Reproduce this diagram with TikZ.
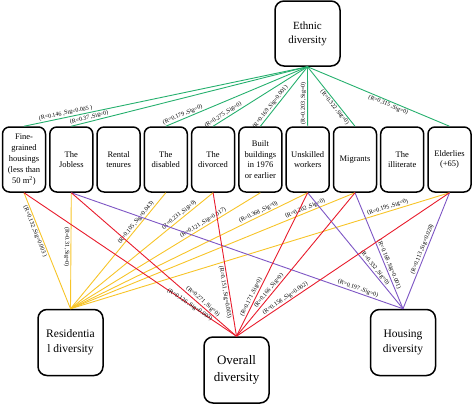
\documentclass[tikz,border=0pt]{standalone}
\usepackage{fontspec}
\setmainfont{Liberation Serif}
\definecolor{cgreen}{RGB}{38,176,110}
\definecolor{cyellow}{RGB}{247,196,40}
\definecolor{cred}{RGB}{232,28,44}
\definecolor{cpurple}{RGB}{126,86,196}
\begin{document}
\begin{tikzpicture}[x=1pt,y=-1pt,
  box/.style={draw, line width=1.5pt, rounded corners=7pt, align=center, inner sep=0pt, fill=white},
  topbox/.style={box, minimum width=43pt, minimum height=65pt, font=\fontsize{8.5}{10.8}\selectfont},
  bigbox/.style={box, rounded corners=9pt, minimum width=65pt, minimum height=66pt},
  lab/.style={font=\fontsize{6}{7}\selectfont, sloped, inner sep=1pt},
  gl/.style={draw=cgreen, line width=0.9pt},
  yl/.style={draw=cyellow, line width=0.9pt},
  rl/.style={draw=cred, line width=0.9pt},
  pl/.style={draw=cpurple, line width=0.9pt}]
\useasboundingbox (0,0) rectangle (474,405);

% nodes
\node[bigbox, minimum height=65pt, font=\fontsize{11}{14}\selectfont] (eth) at (307.5,33.5) {Ethnic\\diversity};
\node[topbox] (b1) at (24,159.5) {Fine-\\grained\\housings\\(less than\\50 m\textsuperscript{2})};
\node[topbox] (b2) at (71.3,159.5) {The\\Jobless};
\node[topbox] (b3) at (118.6,159.5) {Rental\\tenures};
\node[topbox] (b4) at (165.8,159.5) {The\\disabled};
\node[topbox] (b5) at (213.1,159.5) {The\\divorced};
\node[topbox] (b6) at (260.4,159.5) {Built\\buildings\\in 1976\\or earlier};
\node[topbox] (b7) at (307.7,159.5) {Unskilled\\workers};
\node[topbox] (b8) at (355,159.5) {Migrants};
\node[topbox] (b9) at (402.2,159.5) {The\\illiterate};
\node[topbox] (b10) at (449.5,159.5) {Elderlies\\(+65)};
\node[bigbox, font=\fontsize{11.5}{15}\selectfont] (res) at (70.5,342.5) {Residentia\\l diversity};
\node[bigbox, font=\fontsize{13}{17}\selectfont] (ov) at (236.5,370) {Overall\\diversity};
\node[bigbox, font=\fontsize{11.5}{15}\selectfont] (hou) at (403,342.5) {Housing\\diversity};

% green connectors
\draw[gl] (eth.south) -- node[lab, pos=0.85, above] {(R=0.146 ,Sig=0.005 )} (b1.north);
\draw[gl] (eth.south) -- node[lab, pos=0.92, above] {(R=0.37 ,Sig=0)} (b2.north);
\draw[gl] (eth.south) -- node[lab, pos=0.87, above] {(R=0.179 ,Sig=0)} (b4.north);
\draw[gl] (eth.south) -- node[lab, pos=0.87, above] {(R=0.275 ,Sig=0)} (b5.north);
\draw[gl] (eth.south) -- node[lab, pos=0.72, above] {(R=0.169 ,Sig=0.001)} (b6.north);
\draw[gl] (b7.north) -- node[lab, pos=0.38, above, allow upside down] {(R=0.203 ,Sig=0)} (eth.south);
\draw[gl] (eth.south) -- node[lab, pos=0.64, below] {(R=0.322 ,Sig=0)} (b8.north);
\draw[gl] (eth.south) -- node[lab, pos=0.58, below] {(R=0.315 ,Sig=0)} (b10.north);

% yellow connectors (residential)
\draw[yl] (b1.south) -- node[lab, pos=0.32, below] {(R=0.132 ,Sig=0.003 )} (res.north);
\draw[yl] (b2.south) -- node[lab, pos=0.47, below, allow upside down] {(R=0.31 ,Sig=0)} (res.north);
\draw[yl] (b4.south) -- node[lab, pos=0.28, above] {(R=0.105 ,Sig=0.043)} (res.north);
\draw[yl] (b5.south) -- node[lab, pos=0.22, above] {(R=0.231 ,Sig=0)} (res.north);
\draw[yl] (b6.south) -- node[lab, pos=0.29, above] {(R=0.121 ,Sig=0.017)} (res.north);
\draw[yl] (b7.south) -- node[lab, pos=0.2, above] {(R=0.368 ,Sig=0)} (res.north);
\draw[yl] (b8.south) -- node[lab, pos=0.17, above] {(R=0.202 ,Sig=0)} (res.north);
\draw[yl] (b10.south) -- node[lab, pos=0.16, above] {(R=0.195 ,Sig=0)} (res.north);

% purple connectors (housing)
\draw[pl] (b2.south) -- node[lab, pos=0.86, above] {(R=0.197 ,Sig=0)} (hou.north);
\draw[pl] (b7.south) -- node[lab, pos=0.67, above] {(R=0.332 ,Sig=0)} (hou.north);
\draw[pl] (b8.south) -- node[lab, pos=0.63, above] {(R=0.168 ,Sig=0.001)} (hou.north);
\draw[pl] (b10.south) -- node[lab, pos=0.5, above] {(R=0.113 ,Sig=0.028)} (hou.north);

% red connectors (overall)
\draw[rl] (b1.south) -- node[lab, pos=0.78] {(R=0.126 ,Sig=0.003)} (ov.north);
\draw[rl] (b2.south) -- node[lab, pos=0.78, above] {(R=0.271 ,Sig=0)} (ov.north);
\draw[rl] (b5.south) -- node[lab, pos=0.69, below] {(R=0.151 ,Sig=0.003)} (ov.north);
\draw[rl] (b7.south) -- node[lab, pos=0.74, above] {(R=0.171 ,Sig=0)} (ov.north);
\draw[rl] (b8.south) -- node[lab, pos=0.70, above] {(R=0.166 ,Sig=0)} (ov.north);
\draw[rl] (b10.south) -- node[lab, pos=0.76, above] {(R=0.158 ,Sig=0.002)} (ov.north);
\end{tikzpicture}
\end{document}
